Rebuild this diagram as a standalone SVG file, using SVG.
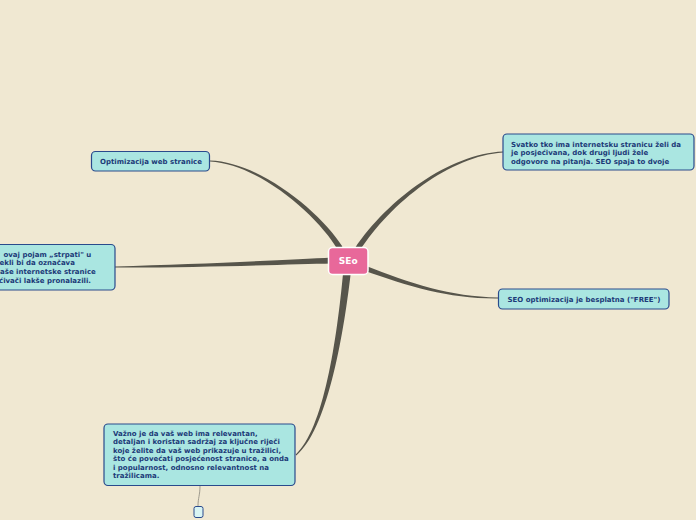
<svg xmlns="http://www.w3.org/2000/svg" width="696" height="520" viewBox="0 0 696 520">
<style>
.bg{fill:#f0e8d2}
.conn{fill:#57554b}
.box{fill:#aae6e1;stroke:#2a4a8c;stroke-width:1.2}
.t{font-family:"DejaVu Sans","Verdana",sans-serif;font-weight:bold;font-size:7px;fill:#1c3a78}
.root{fill:#e8689a;stroke:#ffffff;stroke-width:1.5}
.rt{font-family:"DejaVu Sans",sans-serif;font-weight:bold;font-size:9px;fill:#ffffff}
</style>
<rect class="bg" x="0" y="0" width="696" height="520"/>
<g id="connectors">
<path class="conn" d="M342.4,246.55 C321.6,213.5 260.5,161.9 210,160.5 L210,161.5 C259.5,164.1 318.4,216.5 337.6,249.45 Z"/>
<path class="conn" d="M359.3,251.5 C391.6,201.5 450.5,156.1 503,152.5 L503,151.5 C449.5,153.9 388.4,198.5 354.7,248.5 Z"/>
<path class="conn" d="M332,257.5 C290,259.8 200,264.2 115,266.5 L115,267.5 C200,267.8 290,264.2 332,263.5 Z"/>
<path class="conn" d="M363.1,270.3 C409.4,286.7 449.85,299 498,298.5 L498,297.5 C450.15,297 410.6,283.3 364.9,265.6 Z"/>
<path class="conn" d="M343.2,271.6 C337,339.6 323.6,429.5 295.7,454.6 L296.3,455.4 C326.4,430.5 343,340.4 350.8,272.4 Z"/>
<path d="M200,486 C200,495 198,498 198,506" fill="none" stroke="#8a877c" stroke-width="0.8"/>
</g>
<g id="node-optimizacija">
<rect class="box" x="91.5" y="151.5" width="118" height="19.5" rx="4"/>
<text class="t" x="100" y="163.5">Optimizacija web stranice</text>
</g>
<g id="node-svatko">
<rect class="box" x="503" y="134" width="191" height="36" rx="4"/>
<text class="t" x="511" y="146.5">Svatko tko ima internetsku stranicu želi da</text>
<text class="t" x="511" y="155.3">je posjećivana, dok drugi ljudi žele</text>
<text class="t" x="511" y="164.2">odgovore na pitanja. SEO spaja to dvoje</text>
</g>
<g id="node-strpati">
<rect class="box" x="-60" y="244.5" width="175" height="45.5" rx="4"/>
<text class="t" x="3.5" y="256.6">ovaj pojam „strpati" u</text>
<text class="t" x="-0.5" y="265.3">ekli bi da označava</text>
<text class="t" x="0" y="274">aše internetske stranice</text>
<text class="t" x="-1" y="282.7">ćivači lakše pronalazili.</text>
</g>
<g id="node-free">
<rect class="box" x="498.5" y="289" width="170.5" height="20" rx="4"/>
<text class="t" x="507.5" y="301.6">SEO optimizacija je besplatna ("FREE")</text>
</g>
<g id="node-vazno">
<rect class="box" x="104" y="424" width="191" height="61.5" rx="4"/>
<text class="t" x="113" y="435.7">Važno je da vaš web ima relevantan,</text>
<text class="t" x="113" y="444.2">detaljan i koristan sadržaj za ključne riječi</text>
<text class="t" x="113" y="452.7">koje želite da vaš web prikazuje u tražilici,</text>
<text class="t" x="113" y="461.2">što će povećati posjećenost stranice, a onda</text>
<text class="t" x="113" y="469.7">i popularnost, odnosno relevantnost na</text>
<text class="t" x="113" y="478.2">tražilicama.</text>
</g>
<g id="node-small">
<rect x="194" y="506.5" width="9" height="11" rx="2" fill="#d9f4f3" stroke="#2a4a8c" stroke-width="1"/>
</g>
<g id="node-root">
<rect class="root" x="328.5" y="247.5" width="39.5" height="27" rx="4"/>
<text class="rt" x="348.2" y="264.3" text-anchor="middle">SEo</text>
</g>
</svg>
